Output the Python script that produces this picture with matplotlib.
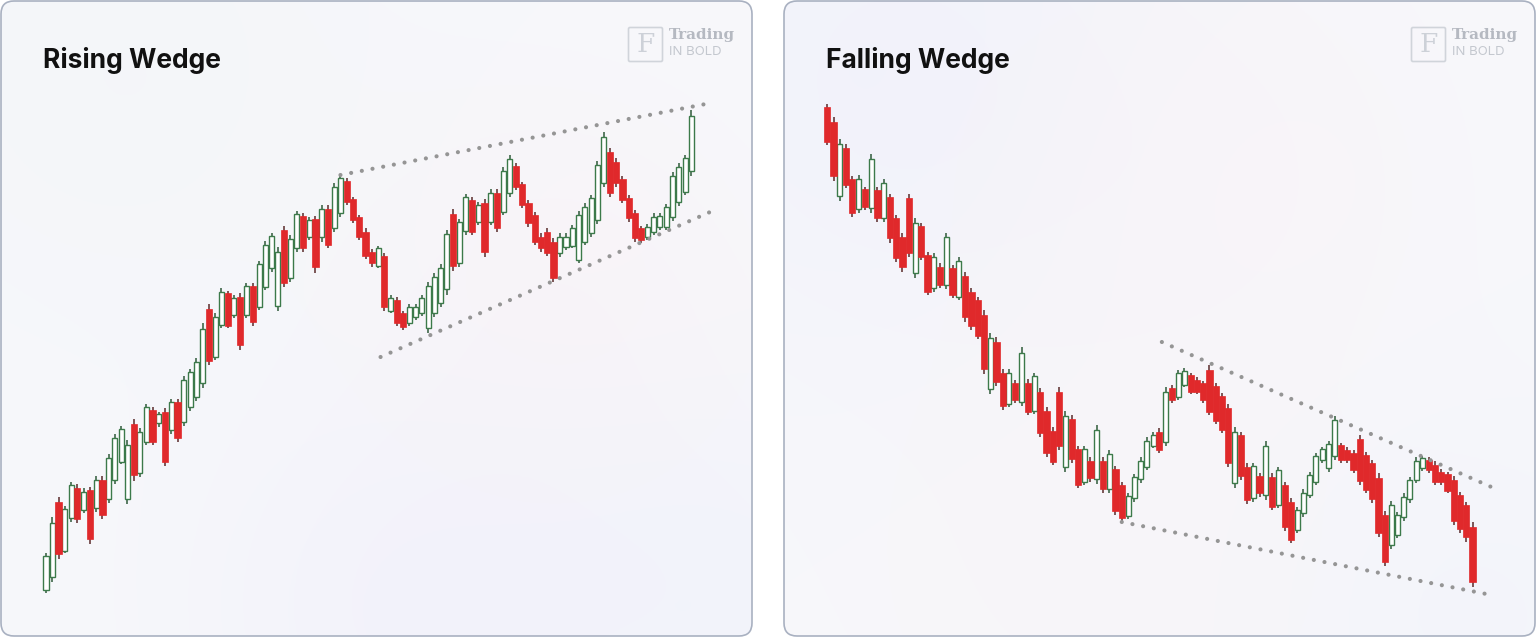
import numpy as np
import matplotlib
matplotlib.use("Agg")
import matplotlib.pyplot as plt
from matplotlib.patches import FancyBboxPatch

# candle prices (arbitrary units, higher = up)
rising_open = [48, 61, 136, 87, 120, 150, 128, 148, 130, 158, 139, 158, 176, 139, 214, 165, 196, 228, 215, 226,
               208, 236, 216, 231, 241, 255, 329, 281, 313, 345, 323, 341, 323, 352, 331, 351, 370, 332, 408, 360,
               390, 422, 401, 419, 401, 429, 410, 425, 457, 439, 421, 406, 386, 372, 382, 327, 338, 325, 315, 321,
               325, 310, 325, 335, 349, 424, 375, 407, 438, 416, 435, 416, 445, 426, 445, 472, 454, 435, 423, 401,
               406, 396, 385, 391, 392, 378, 396, 405, 418, 455, 486, 476, 459, 440, 425, 410, 401, 406, 411, 411,
               421, 436, 446, 467]
rising_high = [85, 121, 141, 132, 156, 154, 150, 151, 162, 162, 184, 204, 212, 198, 219, 210, 234, 231, 226, 230,
               239, 239, 262, 269, 280, 315, 334, 325, 350, 347, 343, 345, 355, 355, 377, 397, 405, 391, 412, 403,
               427, 425, 421, 422, 433, 433, 455, 464, 460, 441, 423, 410, 389, 392, 385, 343, 341, 327, 334, 334,
               343, 356, 365, 374, 408, 429, 419, 444, 441, 436, 439, 449, 449, 471, 483, 475, 456, 438, 426, 405,
               410, 400, 405, 405, 413, 427, 435, 443, 477, 506, 490, 480, 462, 443, 428, 412, 414, 425, 425, 434,
               466, 475, 483, 528]
rising_low = [45, 56, 79, 85, 116, 115, 125, 94, 126, 119, 135, 154, 174, 134, 157, 161, 193, 193, 211, 172,
              204, 196, 212, 227, 237, 250, 273, 278, 310, 310, 320, 288, 320, 312, 328, 348, 366, 327, 351, 356,
              386, 386, 398, 365, 396, 390, 406, 421, 433, 415, 398, 379, 371, 370, 327, 325, 312, 308, 312, 318,
              322, 305, 321, 331, 343, 367, 371, 403, 403, 413, 381, 413, 406, 423, 441, 448, 430, 411, 393, 386,
              382, 356, 381, 388, 390, 375, 393, 401, 414, 451, 441, 451, 435, 416, 396, 395, 398, 403, 408, 408,
              417, 432, 443, 462]
rising_close = [82, 115, 84, 129, 153, 119, 146, 99, 158, 123, 180, 200, 209, 193, 163, 206, 231, 196, 224, 176,
                236, 200, 258, 266, 276, 309, 277, 321, 346, 312, 340, 293, 352, 316, 374, 393, 402, 386, 355, 399,
                424, 390, 418, 371, 429, 393, 451, 460, 436, 418, 401, 382, 375, 390, 331, 340, 315, 311, 331, 331,
                340, 352, 361, 370, 404, 372, 416, 441, 406, 433, 386, 445, 410, 467, 479, 451, 433, 415, 396, 390,
                385, 360, 401, 401, 410, 423, 431, 440, 473, 501, 445, 455, 438, 420, 400, 398, 411, 421, 422, 431,
                462, 471, 480, 522]

falling_open = [531, 516, 442, 490, 459, 429, 449, 430, 448, 420, 441, 420, 401, 440, 365, 412, 383, 350, 371, 353,
                370, 341, 362, 346, 338, 323, 249, 296, 265, 234, 255, 236, 255, 227, 246, 227, 207, 246, 171, 219,
                189, 156, 177, 159, 177, 149, 169, 153, 122, 140, 159, 171, 192, 206, 196, 250, 241, 253, 263, 258,
                255, 268, 252, 242, 230, 155, 203, 171, 140, 162, 143, 161, 133, 153, 136, 108, 125, 143, 156, 178,
                170, 182, 193, 188, 185, 199, 183, 175, 160, 123, 93, 103, 121, 139, 158, 170, 178, 173, 166, 164,
                158, 143, 133, 111]
falling_high = [534, 521, 499, 494, 462, 463, 451, 484, 451, 459, 444, 423, 405, 444, 420, 415, 386, 385, 375, 405,
                373, 381, 366, 350, 341, 328, 305, 301, 269, 269, 258, 291, 259, 265, 250, 231, 211, 251, 227, 223,
                192, 192, 181, 213, 181, 188, 172, 156, 145, 164, 181, 201, 206, 210, 251, 253, 268, 270, 265, 261,
                257, 273, 255, 245, 234, 211, 206, 175, 175, 165, 197, 165, 171, 156, 140, 131, 149, 166, 185, 191,
                197, 222, 195, 191, 188, 203, 186, 178, 165, 127, 137, 126, 145, 161, 181, 182, 181, 177, 169, 166,
                162, 146, 136, 116]
falling_low = [493, 457, 437, 450, 421, 425, 428, 425, 416, 416, 395, 376, 366, 381, 360, 378, 343, 346, 350, 349,
               340, 338, 316, 308, 299, 264, 244, 252, 228, 231, 235, 232, 223, 224, 201, 181, 173, 188, 166, 175,
               150, 153, 156, 154, 145, 145, 123, 116, 119, 136, 155, 168, 190, 185, 192, 235, 238, 251, 244, 244,
               235, 223, 214, 205, 171, 150, 158, 134, 136, 141, 138, 128, 130, 107, 95, 105, 121, 140, 153, 175,
               166, 178, 175, 175, 165, 153, 145, 135, 101, 72, 89, 100, 117, 135, 155, 167, 165, 153, 153, 145,
               113, 105, 96, 51]
falling_close = [496, 462, 494, 453, 425, 459, 431, 479, 420, 455, 400, 380, 371, 385, 415, 381, 346, 381, 353, 401,
                 343, 377, 321, 312, 302, 269, 300, 256, 232, 265, 238, 285, 226, 262, 205, 185, 176, 192, 222, 179,
                 153, 189, 160, 208, 149, 184, 127, 120, 142, 161, 177, 197, 203, 188, 246, 238, 265, 267, 246, 246,
                 238, 226, 217, 208, 175, 206, 162, 138, 172, 145, 192, 131, 168, 111, 98, 128, 145, 163, 182, 189,
                 194, 218, 178, 178, 168, 157, 148, 139, 105, 76, 133, 123, 141, 158, 177, 180, 168, 156, 156, 147,
                 117, 109, 101, 56]

# wedge boundary lines: (candle index, price) at both ends
rising_upper = ([47.0, 105.3], [463, 534])
rising_lower = ([53.4, 106.0], [281, 426])
falling_upper = ([53.4, 106.0], [296, 151])
falling_lower = ([47.0, 105.2], [116, 44])

W, H = 1536, 638
fig = plt.figure(figsize=(W / 100, H / 100), dpi=100)
fig.patch.set_facecolor("white")

bg = fig.add_axes([0, 0, 1, 1])
bg.set_xlim(0, W)
bg.set_ylim(H, 0)
bg.axis("off")


def soft_background(x0, x1, blobs):
    xs = np.linspace(x0, x1, 300)
    ys = np.linspace(0, H, 250)
    X, Y = np.meshgrid(xs, ys)
    img = np.ones((len(ys), len(xs), 3)) * np.array([247, 248, 251]) / 255
    for cx, cy, r, col, a in blobs:
        w = a * np.exp(-((X - cx) ** 2 + (Y - cy) ** 2) / (2 * r ** 2))
        img = img * (1 - w[..., None]) + np.array(col)[None, None, :] / 255 * w[..., None]
    return img


panels = [
    (1, 752, [(560, 300, 150, (251, 241, 246), 0.5), (430, 610, 170, (240, 239, 250), 0.6),
              (120, 70, 200, (242, 244, 248), 0.5), (720, 600, 150, (238, 240, 250), 0.5)]),
    (784, 1535, [(900, 80, 210, (238, 239, 250), 0.6), (1230, 180, 160, (251, 242, 247), 0.45),
                 (1100, 570, 190, (249, 243, 247), 0.45), (1490, 620, 150, (240, 242, 250), 0.5)]),
]
for x0, x1, blobs in panels:
    box = FancyBboxPatch((x0 + 13, 14), x1 - x0 - 26, H - 29, boxstyle="round,pad=13",
                         facecolor="none", edgecolor="#a9b1c1", linewidth=1.2, zorder=3)
    bg.add_patch(box)
    im = bg.imshow(soft_background(x0, x1, blobs), extent=(x0, x1, H, 0), aspect="auto", zorder=1)
    im.set_clip_path(box)

# titles and watermark logos
for x0, title in [(0, "Rising Wedge"), (783, "Falling Wedge")]:
    bg.text(x0 + 43, 60, title, fontsize=19, fontweight="bold", family=["Inter", "DejaVu Sans"],
            color="#111111", va="center", ha="left", zorder=5)
    logo = FancyBboxPatch((x0 + 630, 29), 31, 31, boxstyle="round,pad=1.5",
                          facecolor="none", edgecolor="#d0d4da", linewidth=1.2, zorder=5)
    bg.add_patch(logo)
    bg.text(x0 + 645.5, 45, "F", fontsize=19, family="DejaVu Serif", color="#cdd1d8",
            ha="center", va="center", zorder=5)
    bg.text(x0 + 669, 35, "Trading", fontsize=11, fontweight="bold", family="DejaVu Serif",
            color="#b5b9c1", ha="left", va="center", zorder=5)
    bg.text(x0 + 669, 52, "IN BOLD", fontsize=9.5, family=["Inter", "DejaVu Sans"],
            color="#c4c8cf", ha="left", va="center", zorder=5)


def draw_candles(ax, o, h, l, c, upper, lower):
    o, h, l, c = map(np.asarray, (o, h, l, c))
    idx = np.arange(len(o))
    up = c >= o
    ax.vlines(idx[up], l[up], h[up], color="#2f5a3a", linewidth=1.1, zorder=2)
    ax.vlines(idx[~up], l[~up], h[~up], color="#5a2a2a", linewidth=1.1, zorder=2)
    ax.bar(idx[up], (c - o)[up], bottom=o[up], width=0.8, facecolor="white",
           edgecolor="#3c7a4a", linewidth=1.0, zorder=3)
    ax.bar(idx[~up], (o - c)[~up], bottom=c[~up], width=1.0, facecolor="#e0292b",
           edgecolor="#e0292b", linewidth=0.5, zorder=3)
    for xs, ys in (upper, lower):
        ax.plot(xs, ys, color="#959595", linewidth=3.0, linestyle=(0, (0.01, 2.6)),
                dash_capstyle="round", zorder=4)


spacing = 6.265
for x0, first_px, data, upper, lower in [
    (0, 46.0, (rising_open, rising_high, rising_low, rising_close), rising_upper, rising_lower),
    (783, 827.3, (falling_open, falling_high, falling_low, falling_close), falling_upper, falling_lower),
]:
    ax = fig.add_axes([x0 / W, 0, 753 / W, 1])
    ax.patch.set_alpha(0)
    ax.set_xlim((x0 - first_px) / spacing, (x0 + 753 - first_px) / spacing)
    ax.set_ylim(0, H)
    ax.axis("off")
    draw_candles(ax, *data, upper, lower)

fig.savefig("out.png", dpi=100)
